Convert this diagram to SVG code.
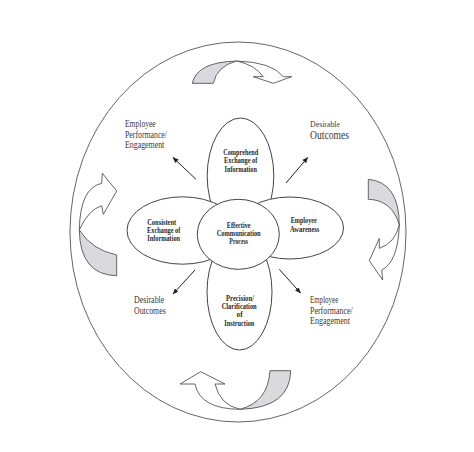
<svg xmlns="http://www.w3.org/2000/svg" width="474" height="452" viewBox="0 0 474 452">
<defs>
<marker id="ah" viewBox="0 0 10 10" refX="9" refY="5" markerWidth="6" markerHeight="6" orient="auto" markerUnits="userSpaceOnUse">
<path d="M0,1 L10,5 L0,9 Z" fill="#222"/>
</marker>
<style>
.shape{fill:#fff;stroke:#444;stroke-width:1}
.gray{fill:#d9d9de;stroke:#555;stroke-width:0.9}
.white{fill:#fff;stroke:#555;stroke-width:0.9}
.lbl{font-family:"Liberation Serif","Times New Roman",serif;font-size:10px;fill:#3a3a3a}
.in{font-family:"Liberation Serif","Times New Roman",serif;font-size:7.2px;font-weight:bold;fill:#2a2a2a;text-anchor:middle}
.conn{stroke:#222;stroke-width:1;fill:none;marker-end:url(#ah)}
</style>
</defs>
<rect width="474" height="452" fill="#fff"/>
<g id="outer">
<ellipse cx="238" cy="232" rx="168" ry="190" fill="none" stroke="#666" stroke-width="1"/>
</g>
<g id="cycle-arrows">
<g id="arrow-top">
<path class="gray" d="M192.3,83.3 Q197,62 236.7,61 Q217,66 213.3,83.3 Z"/>
<path class="white" d="M236.7,61 Q272,62 283.3,76.7 L291.7,76.7 L273.3,83.3 L253.3,76.7 L263.3,76.7 Q255,65 236.7,61 Z"/>
</g>
<g id="arrow-right">
<path class="gray" d="M368.3,179.3 Q399,182 399.3,225 Q392,200 368.3,199.3 Z"/>
<path class="white" d="M399.3,225 Q398,262 381.7,270 L382.7,280 L369.3,260.7 L379.3,238.3 L379.3,248.3 Q395,243 399.3,225 Z"/>
</g>
<g id="arrow-bottom">
<path class="gray" d="M290.7,370.7 Q290,408 240,409.3 Q268,402 270,370.7 Z"/>
<path class="white" d="M240,409.3 Q200,409 195,384 L180,384 L200.7,371.7 L225,384 L215,384 Q220,405 240,409.3 Z"/>
</g>
<g id="arrow-left">
<path class="gray" d="M79.3,230 Q80,275 116.7,275.7 L116.7,255 Q92,250 79.3,230 Z"/>
<path class="white" d="M79.3,230 Q80,188 101.7,183.3 L102.3,173.3 L116.7,191 L103.3,214.3 L101.7,205.7 Q88,210 79.3,230 Z"/>
</g>
</g>
<g id="node-comprehend">
<ellipse class="shape" cx="240.5" cy="176" rx="33.3" ry="58"/>
<text class="in"><tspan x="240.7" y="155" textLength="35" lengthAdjust="spacingAndGlyphs">Comprehend</tspan><tspan x="240.7" y="163.3" textLength="33.3" lengthAdjust="spacingAndGlyphs">Exchange of</tspan><tspan x="240.7" y="171.7" textLength="32.3" lengthAdjust="spacingAndGlyphs">Information</tspan></text>
</g>
<g id="node-precision">
<ellipse class="shape" cx="239.5" cy="292" rx="32.5" ry="58"/>
<text class="in"><tspan x="240" y="301.3" textLength="28" lengthAdjust="spacingAndGlyphs">Precision/</tspan><tspan x="239.2" y="309.3" textLength="35" lengthAdjust="spacingAndGlyphs">Clarification</tspan><tspan x="239.6" y="317.3" textLength="6" lengthAdjust="spacingAndGlyphs">of</tspan><tspan x="239.3" y="325.7" textLength="30" lengthAdjust="spacingAndGlyphs">Instruction</tspan></text>
</g>
<g id="node-consistent">
<ellipse class="shape" cx="182.5" cy="230.5" rx="55.5" ry="33.7"/>
<text class="in"><tspan x="161.7" y="224.7" textLength="29" lengthAdjust="spacingAndGlyphs">Consistent</tspan><tspan x="163.7" y="233" textLength="33.3" lengthAdjust="spacingAndGlyphs">Exchange of</tspan><tspan x="163.7" y="241.3" textLength="32.7" lengthAdjust="spacingAndGlyphs">Information</tspan></text>
</g>
<g id="node-awareness">
<ellipse class="shape" cx="290" cy="228" rx="53.5" ry="31"/>
<text class="in"><tspan x="303.7" y="223.3" textLength="26" lengthAdjust="spacingAndGlyphs">Employee</tspan><tspan x="304.7" y="231.7" textLength="29.3" lengthAdjust="spacingAndGlyphs">Awareness</tspan></text>
</g>
<g id="node-center">
<ellipse class="shape" cx="238.3" cy="234.3" rx="41" ry="35"/>
<text class="in"><tspan x="238.7" y="227.7" textLength="24" lengthAdjust="spacingAndGlyphs">Effective</tspan><tspan x="238.7" y="236" textLength="44" lengthAdjust="spacingAndGlyphs">Communication</tspan><tspan x="238.7" y="244" textLength="18.7" lengthAdjust="spacingAndGlyphs">Process</tspan></text>
</g>
<g id="connectors">
<line class="conn" x1="196" y1="179.3" x2="173" y2="157.5"/>
<line class="conn" x1="286" y1="183" x2="307.7" y2="157.5"/>
<line class="conn" x1="195" y1="270" x2="173" y2="294"/>
<line class="conn" x1="279.3" y1="269.3" x2="300.5" y2="293"/>
</g>
<g id="label-tl">
<text class="lbl"><tspan x="125" y="127.3" textLength="30.7" lengthAdjust="spacingAndGlyphs">Employee</tspan><tspan x="125" y="137.7" textLength="42" lengthAdjust="spacingAndGlyphs">Performance/</tspan><tspan x="125" y="147.5" textLength="39.3" lengthAdjust="spacingAndGlyphs">Engagement</tspan></text>
</g>
<g id="label-tr">
<text class="lbl"><tspan x="310" y="127.3" font-size="9" textLength="30" lengthAdjust="spacingAndGlyphs">Desirable</tspan><tspan x="310" y="138.5" font-size="11.5" textLength="39" lengthAdjust="spacingAndGlyphs">Outcomes</tspan></text>
</g>
<g id="label-bl">
<text class="lbl"><tspan x="134" y="303.3" textLength="30.3" lengthAdjust="spacingAndGlyphs">Desirable</tspan><tspan x="134" y="314.3" textLength="31.7" lengthAdjust="spacingAndGlyphs">Outcomes</tspan></text>
</g>
<g id="label-br">
<text class="lbl"><tspan x="310" y="303.3" textLength="28.3" lengthAdjust="spacingAndGlyphs">Employee</tspan><tspan x="310" y="313.5" textLength="42.7" lengthAdjust="spacingAndGlyphs">Performance/</tspan><tspan x="310" y="324" textLength="40" lengthAdjust="spacingAndGlyphs">Engagement</tspan></text>
</g>
</svg>
